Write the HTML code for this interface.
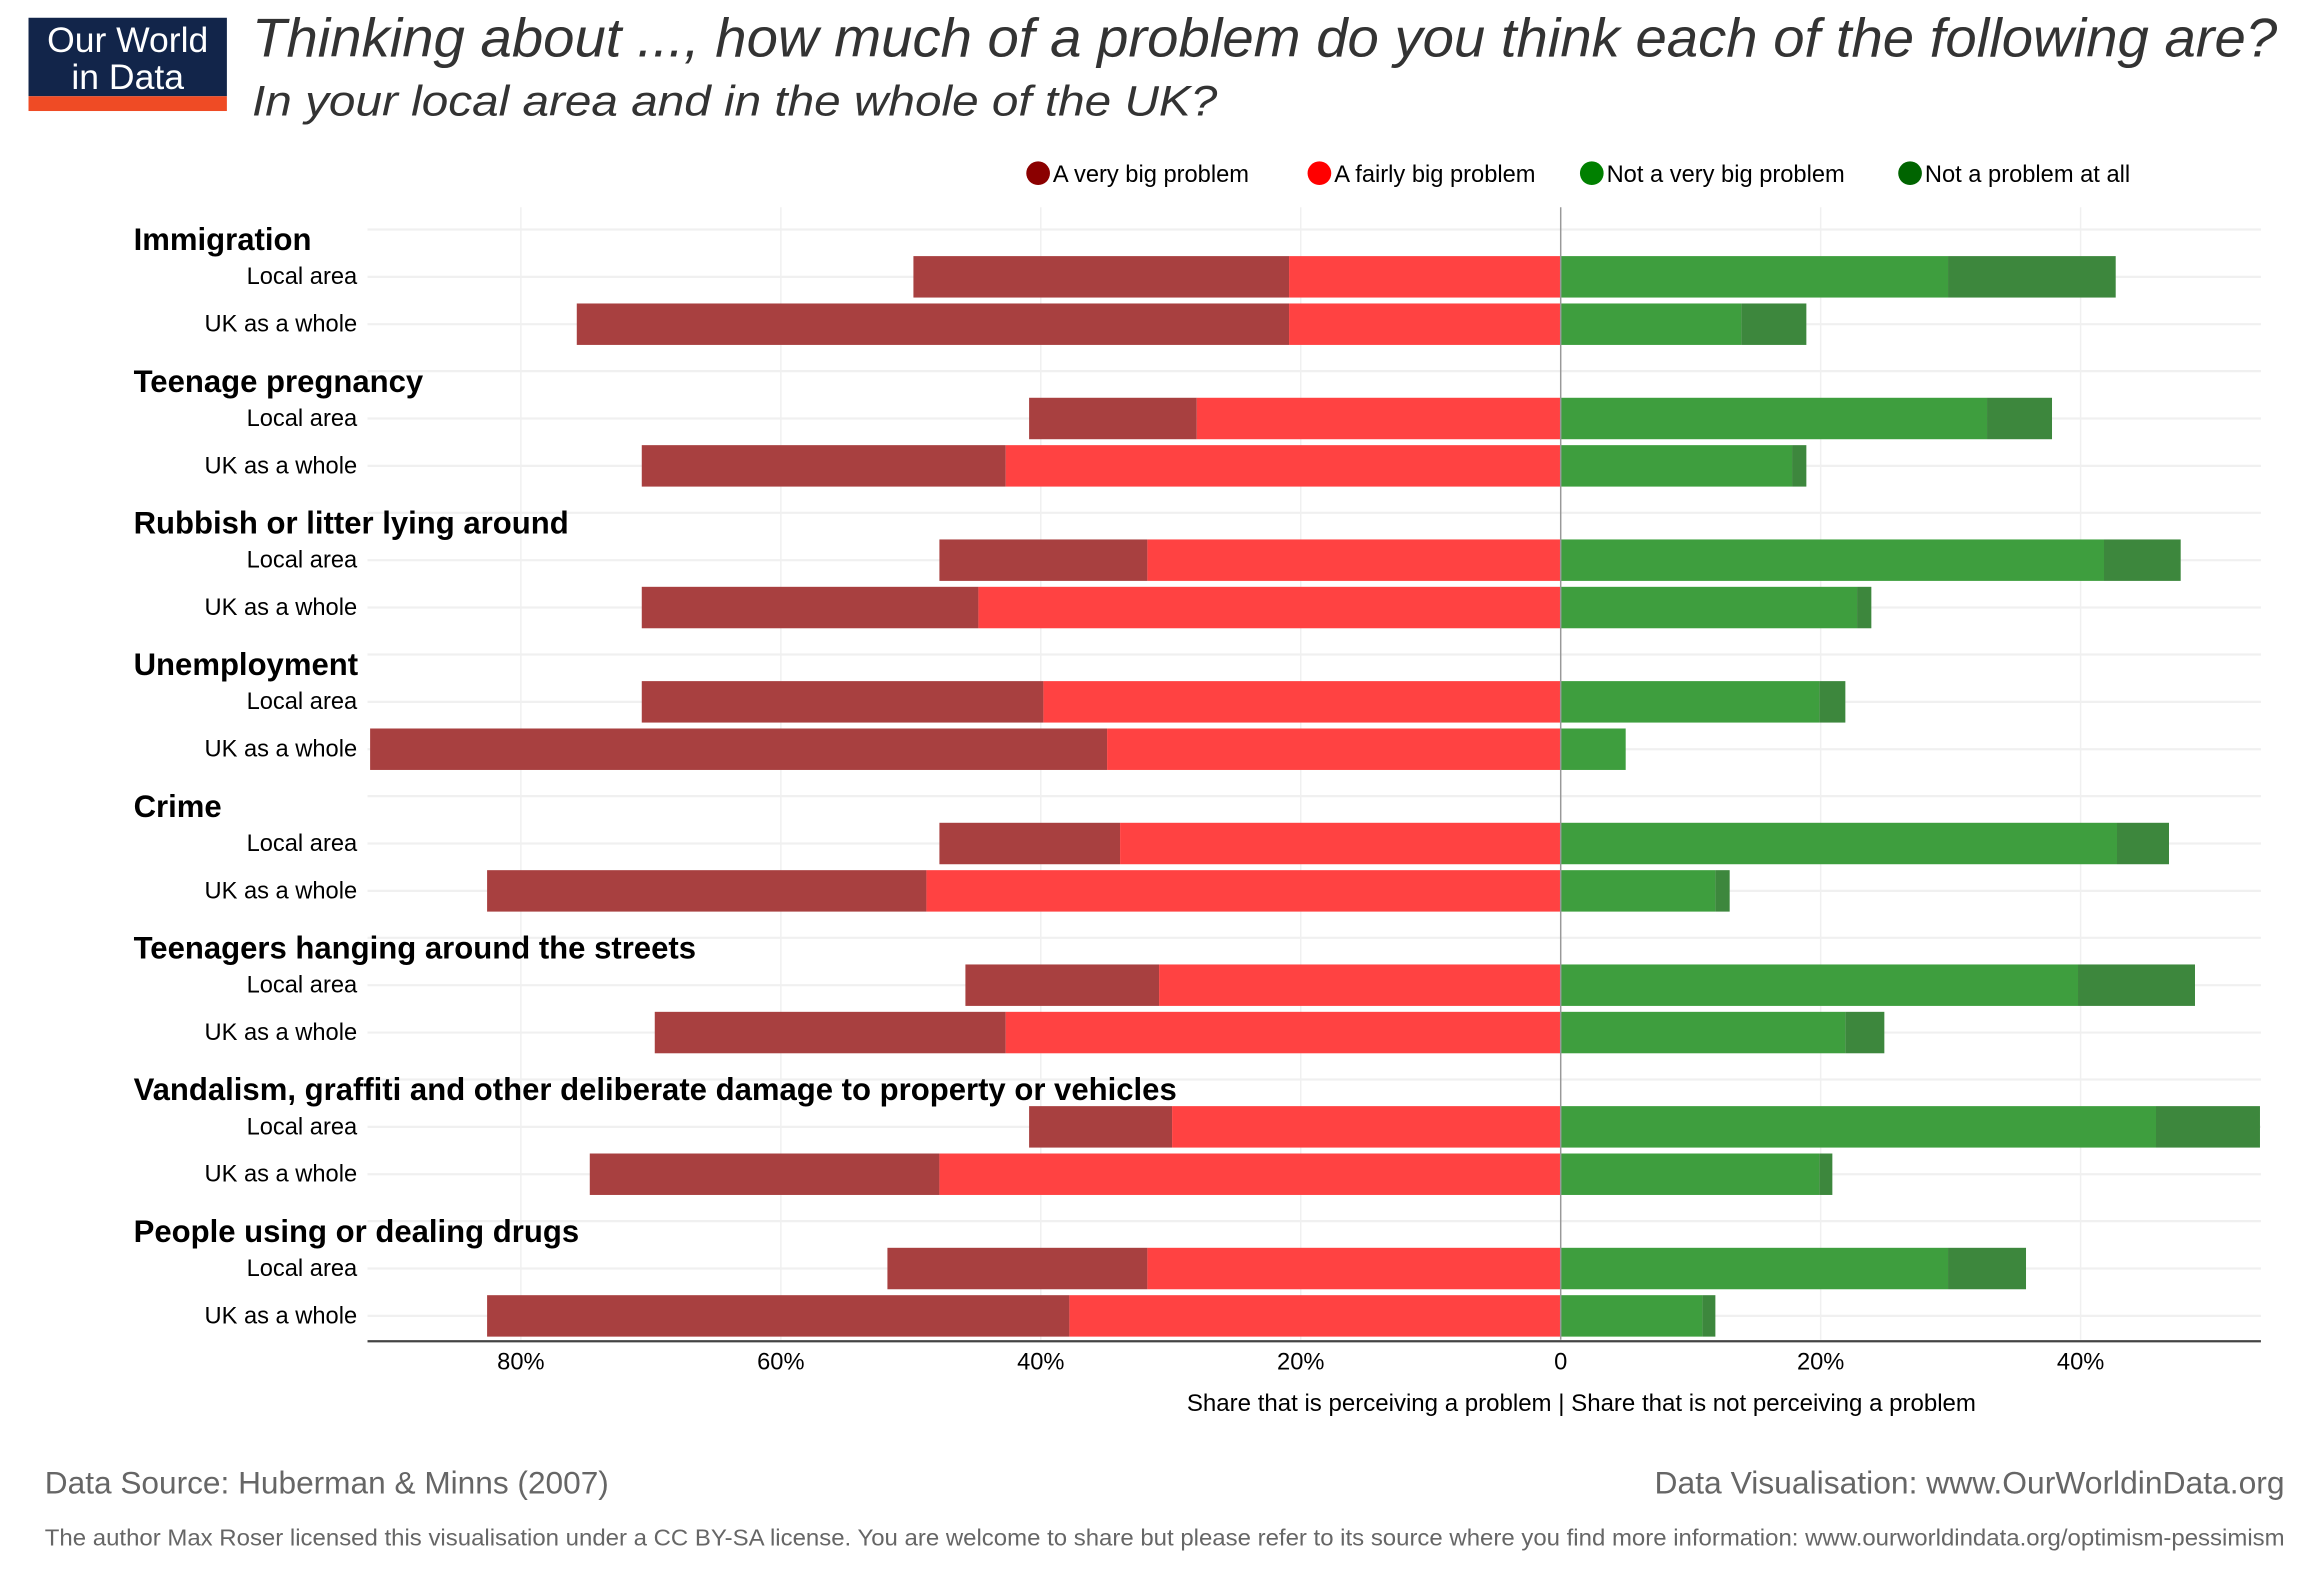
<!DOCTYPE html>
<html><head><meta charset="utf-8">
<style>
html,body{margin:0;padding:0;background:#fff;}
svg{display:block;font-family:"Liberation Sans",sans-serif;}
</style></head>
<body>
<svg id="chart" width="2322" height="1584" viewBox="0 0 1568 1070" xmlns="http://www.w3.org/2000/svg">
  <g>
    <rect x="19" y="12" width="134" height="53" fill="#12254a"/>
    <rect x="19" y="65" width="134" height="10" fill="#ef4b25"/>
    <text x="86" y="35" font-size="24" fill="#fff" text-anchor="middle">Our World</text>
    <text x="86" y="60" font-size="24" fill="#fff" text-anchor="middle">in Data</text>
  </g>
  <text x="170" y="38" font-size="37" font-style="italic" fill="#333" textLength="1368" lengthAdjust="spacingAndGlyphs">Thinking about ..., how much of a problem do you think each of the following are?</text>
  <text x="170" y="78" font-size="29" font-style="italic" fill="#333" textLength="652" lengthAdjust="spacingAndGlyphs">In your local area and in the whole of the UK?</text>
  <g id="legend"></g>
  <g id="grid"></g>
  <g id="bars"></g>
  <g id="labels"></g>
  <g id="xaxis"></g>
  <text x="1068" y="953" font-size="16" fill="#000" text-anchor="middle" textLength="533" lengthAdjust="spacingAndGlyphs">Share that is perceiving a problem | Share that is not perceiving a problem</text>
  <text x="30" y="1009" font-size="21.5" fill="#666" textLength="381" lengthAdjust="spacingAndGlyphs">Data Source: Huberman &amp; Minns (2007)</text>
  <text x="1543" y="1009" font-size="21.5" fill="#666" text-anchor="end">Data Visualisation: www.OurWorldinData.org</text>
  <text x="30" y="1044" font-size="15.5" fill="#666" textLength="1513" lengthAdjust="spacingAndGlyphs">The author Max Roser licensed this visualisation under a CC BY-SA license. You are welcome to share but please refer to its source where you find more information: www.ourworldindata.org/optimism-pessimism</text>
</svg>
<script>
const categories = ["Immigration","Teenage pregnancy","Rubbish or litter lying around","Unemployment","Crime","Teenagers hanging around the streets","Vandalism, graffiti and other deliberate damage to property or vehicles","People using or dealing drugs"];
const rowLabels = ["Local area","UK as a whole"];
// values per row: [cat0 local, cat0 UK, cat1 local, ...]
const veryBig   = [28.9,54.8, 12.9,28.0, 16.0,25.9, 30.9,56.7, 13.9,33.8, 14.9,27.0, 11.0,26.9, 20.0,44.8];
const fairlyBig = [20.9,20.9, 28.0,42.7, 31.8,44.8, 39.8,34.9, 33.9,48.8, 30.9,42.7, 29.9,47.8, 31.8,37.8];
const notVeryBig= [29.8,13.9, 32.8,17.8, 41.8,22.8, 19.9,5.0, 42.8,11.9, 39.8,21.9, 45.8,19.9, 29.8,10.9];
const notAtAll  = [12.9,5.0, 5.0,1.1, 5.9,1.1, 2.0,0, 4.0,1.1, 9.0,3.0, 8.0,1.0, 6.0,1.0];
const tickValues = [-80,-60,-40,-20,0,20,40];
const tickLabels = ["80%","60%","40%","20%","0","20%","40%"];
const seriesNames = ["A very big problem","A fairly big problem","Not a very big problem","Not a problem at all"];
const legendColors = ["#8b0000","#ff0000","#008000","#006400"];
const barColors = ["#a84040","#ff4242","#3e9e3e","#3d873d"];

const NS="http://www.w3.org/2000/svg";
const x0=1054, pxPer=8.78, plotL=248, plotR=1527;
const X=v=>x0+v*pxPer;
const groupY=i=>162+i*95.7;
const rowY=(i,j)=>187+i*95.7+j*32;
function mk(tag,attrs,parent,txt){const e=document.createElementNS(NS,tag);for(const k in attrs)e.setAttribute(k,attrs[k]);if(txt!=null)e.textContent=txt;parent.appendChild(e);return e;}

const lg=document.getElementById('legend');
const lx=[701,891,1075,1290];
seriesNames.forEach((n,i)=>{
  const g=mk('g',{},lg);
  
  
  mk('circle',{cx:lx[i],cy:117,r:8,fill:legendColors[i]},g);
  mk('text',{x:lx[i]+10,y:123,'font-size':16,fill:'#000'},g,n);
});

const grid=document.getElementById('grid');
tickValues.forEach(v=>{ if(v===0)return; const l=mk('line',{x1:X(v),x2:X(v),y1:140,y2:905,stroke:'#f0f0f0','stroke-width':1},grid);  });
categories.forEach((c,i)=>{
  mk('line',{x1:plotL,x2:plotR,y1:groupY(i)-7,y2:groupY(i)-7,stroke:'#f0f0f0','stroke-width':1.5},grid);
  for(let j=0;j<2;j++) mk('line',{x1:plotL,x2:plotR,y1:rowY(i,j),y2:rowY(i,j),stroke:'#f0f0f0','stroke-width':1.5},grid);
});

const bars=document.getElementById('bars');
const labels=document.getElementById('labels');
categories.forEach((c,i)=>{
  const t=mk('text',{x:90,y:groupY(i)+7,'font-size':21,'font-weight':'bold',fill:'#000'},labels,c);
  
  
  for(let j=0;j<2;j++){
    const k=i*2+j, y=rowY(i,j)-14, h=28;
    const rl=mk('text',{x:241,y:rowY(i,j)+5,'font-size':16,fill:'#000','text-anchor':'end'},labels,rowLabels[j]);
    
    
    const f=fairlyBig[k], vb=veryBig[k], nv=notVeryBig[k], na=notAtAll[k];
    const segs=[[X(-(f+vb)),X(-f),0],[X(-f),X(0),1],[X(0),X(nv),2],[X(nv),X(nv+na),3]];
    segs.forEach(s=>{
      if(s[1]-s[0]<=0)return;
      const r=mk('rect',{x:Math.max(s[0],plotL),y:y,width:s[1]-Math.max(s[0],plotL),height:h,fill:barColors[s[2]]},bars);
      
      
    });
  }
});
mk('line',{x1:x0,x2:x0,y1:140,y2:905,stroke:'#999','stroke-width':1},bars);

const ax=document.getElementById('xaxis');
mk('line',{x1:plotL,x2:plotR,y1:906,y2:906,stroke:'#444','stroke-width':1.5},ax);
tickValues.forEach((v,i)=>{
  const t=mk('text',{x:X(v),y:925,'font-size':16,fill:'#000','text-anchor':'middle'},ax,tickLabels[i]);
  
  
});
</script>
</body></html>
